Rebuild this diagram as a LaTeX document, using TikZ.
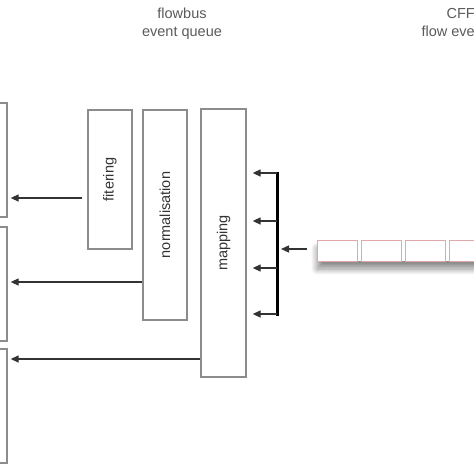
\documentclass[tikz,border=0pt]{standalone}
\usepackage{fontspec}
\setmainfont{Liberation Sans}
\usetikzlibrary{arrows.meta,shadows.blur}
\definecolor{boxline}{HTML}{8C8C8C}
\definecolor{arrcol}{HTML}{333333}
\definecolor{hdr}{HTML}{5A5A5A}
\definecolor{evline}{HTML}{E0A8A8}
\tikzset{
  procbox/.style={draw=boxline, line width=1.3pt, fill=white, rectangle, inner sep=0pt},
  outbox/.style={draw=boxline, line width=1.3pt, fill=white, rectangle, inner sep=0pt, minimum width=20pt, minimum height=114pt},
  evbox/.style={draw=evline, line width=1pt, fill=white, rectangle, inner sep=0pt, minimum width=40pt, minimum height=21pt},
  evshadow/.style={fill=white, blur shadow={shadow xshift=0pt, shadow yshift=-8pt, shadow blur steps=12, shadow blur radius=6pt, shadow opacity=45}},
  arr/.style={draw=arrcol, line width=1.3pt, -{Triangle[length=8pt,width=7pt]}},
  lbl/.style={font=\fontsize{14.5}{18}\selectfont, text=arrcol},
  hd/.style={font=\fontsize{14.5}{18}\selectfont, text=hdr, align=center},
}
\begin{document}
\begin{tikzpicture}[x=1pt,y=-1pt]
\useasboundingbox (0,0) rectangle (474,474);
\clip (0,0) rectangle (474,474);
% header
\node[hd] (hflow) at (182,24) {flowbus\\event queue};
\node[hd, anchor=north west] (hcff) at (418,5) {\hspace*{25pt}CFF\\flow eve};
% output boxes at left
\node[outbox] (out1) at (-3,160) {};
\node[outbox] (out2) at (-3,284) {};
\node[outbox] (out3) at (-3,406) {};
% processing boxes
\node[procbox, minimum width=44pt, minimum height=139pt] (filt) at (110,179.5) {};
\node[lbl, rotate=90] at (filt.center) {fitering};
\node[procbox, minimum width=44pt, minimum height=210pt] (norm) at (165,215) {};
\node[lbl, rotate=90] at (norm.center) {normalisation};
\node[procbox, minimum width=45pt, minimum height=268pt] (map) at (223.5,243) {};
\node[lbl, rotate=90] at (map.center) {mapping};
% arrows to outputs
\draw[arr] ([xshift=-5pt]filt.west |- 0,198) -- ([xshift=3pt]out1.east |- 0,198);
\draw[arr] (norm.west |- 0,282) -- ([xshift=3pt]out2.east |- 0,282);
\draw[arr] (map.west |- 0,359) -- ([xshift=3pt]out3.east |- 0,359);
% bus
\coordinate (bt) at (277,172);
\coordinate (bb) at (277,316);
\draw[black, line width=3pt] (bt) -- (bb);
\foreach \yy in {173,221,268,314}{
  \draw[arr] (277,\yy) -- ([xshift=6pt]map.east |- 0,\yy);
}
% event boxes (shadow first, then boxes)
\path[evshadow] (317,240) rectangle (500,261);
\node[evbox] (ev1) at (337,250.5) {};
\node[evbox] (ev2) at (381,250.5) {};
\node[evbox] (ev3) at (425,250.5) {};
\node[evbox] (ev4) at (469,250.5) {};
\coordinate (bin) at (277,249);
\draw[arr] ([xshift=-10pt]ev1.west |- 0,249) -- ([xshift=4pt]bin);
\end{tikzpicture}
\end{document}
